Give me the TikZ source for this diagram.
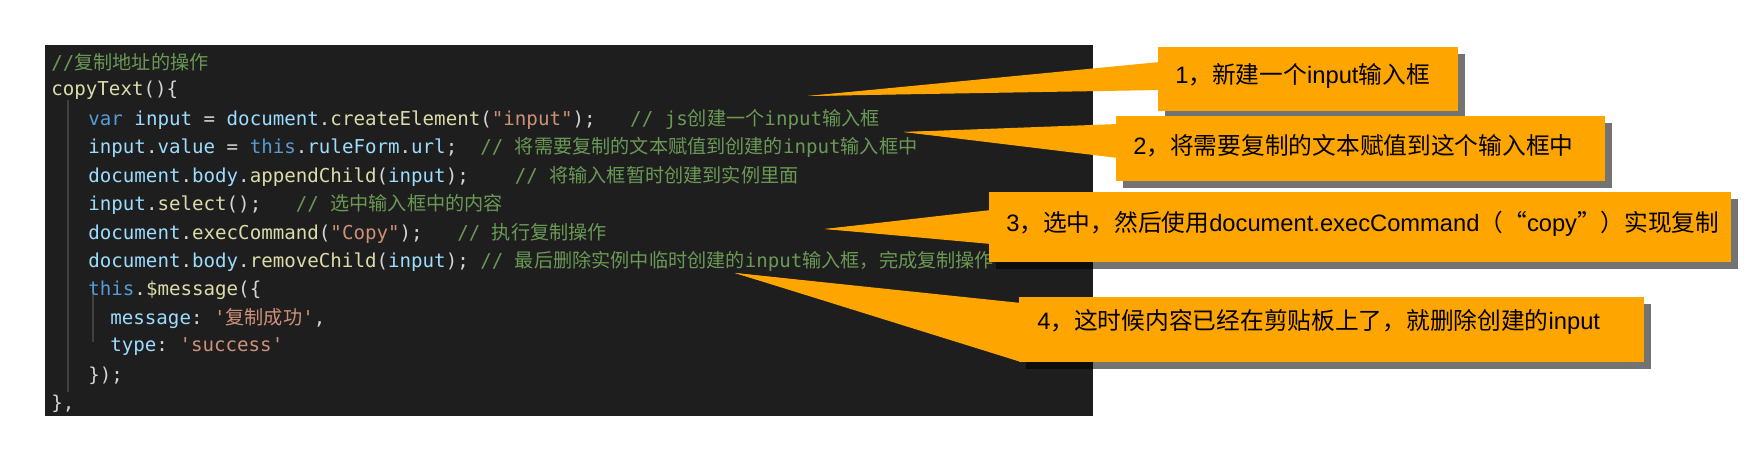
\documentclass[tikz,border=0pt]{standalone}
\usepackage{fontspec}
\usetikzlibrary{shadows}
\setmainfont{Liberation Sans}
\setmonofont{DejaVu Sans Mono}
\newfontfamily\cj{Noto Sans CJK SC}
\definecolor{bgc}{HTML}{1E1E1E}
\definecolor{cmc}{HTML}{6A9955}
\definecolor{kwc}{HTML}{569CD6}
\definecolor{vrc}{HTML}{9CDCFE}
\definecolor{fnc}{HTML}{DCDCAA}
\definecolor{stc}{HTML}{CE9178}
\definecolor{ptc}{HTML}{D4D4D4}
\definecolor{orc}{HTML}{FFA500}
\definecolor{guide}{HTML}{404040}
\newcommand{\KW}[1]{\textcolor{kwc}{#1}}
\newcommand{\VR}[1]{\textcolor{vrc}{#1}}
\newcommand{\FN}[1]{\textcolor{fnc}{#1}}
\newcommand{\ST}[1]{\textcolor{stc}{#1}}
\newcommand{\CM}[1]{\textcolor{cmc}{#1}}
\newcommand{\C}[1]{{\cj #1}}
\begin{document}
\begin{tikzpicture}[x=0.02cm,y=-0.02cm,
  codeline/.style={anchor=west,inner sep=0pt,text=ptc,font=\ttfamily\fontsize{10.9}{12}\selectfont},
  callout/.style={fill=orc,draw=none,minimum height=#1,inner sep=0pt,
    drop shadow={shadow xshift=4pt,shadow yshift=-4pt,fill=black,opacity=0.55}},
  callouttext/.style={anchor=west,inner sep=0pt,font=\fontsize{13.5}{15}\selectfont,text=black},
  wedge/.style={fill=orc,draw=none}]
\useasboundingbox (0,0) rectangle (1762,459);
\fill[white] (0,0) rectangle (1762,459);
\node[fill=bgc,anchor=north west,minimum width=1048*0.02cm,minimum height=371*0.02cm,inner sep=0pt] (panel) at (45,45) {};
\draw[guide,line width=0.6pt] (68,100) -- (68,392);
\draw[guide,line width=0.6pt] (93,290) -- (93,342);
\node[codeline] (l1) at (51,62) {\CM{//\C{复制地址的操作}}};
\node[codeline] (l2) at (51,90.5) {\FN{copyText}()\{};
\node[codeline] (l3) at (88,119) {\KW{var} \VR{input} = \VR{document}.\FN{createElement}(\ST{"input"});\ \ \ \CM{// js\C{创建一个}input\C{输入框}}};
\node[codeline] (l4) at (88,147.5) {\VR{input}.\VR{value} = \KW{this}.\VR{ruleForm}.\VR{url};\ \ \CM{// \C{将需要复制的文本赋值到创建的}input\C{输入框中}}};
\node[codeline] (l5) at (88,176) {\VR{document}.\VR{body}.\FN{appendChild}(\VR{input});\ \ \ \ \CM{// \C{将输入框暂时创建到实例里面}}};
\node[codeline] (l6) at (88,204.5) {\VR{input}.\FN{select}();\ \ \ \CM{// \C{选中输入框中的内容}}};
\node[codeline] (l7) at (88,233) {\VR{document}.\FN{execCommand}(\ST{"Copy"});\ \ \ \CM{// \C{执行复制操作}}};
\node[codeline] (l8) at (88,261.5) {\VR{document}.\VR{body}.\FN{removeChild}(\VR{input}); \CM{// \C{最后删除实例中临时创建的}input\C{输入框，完成复制操作}}};
\node[codeline] (l9) at (88,290) {\KW{this}.\FN{\$message}(\{};
\node[codeline] (l10) at (110,318.5) {\VR{message}: \ST{'\C{复制成功}'},};
\node[codeline] (l11) at (110,347) {\VR{type}: \ST{'success'}};
\node[codeline] (l12) at (88,375.5) {\});};
\node[codeline] (l13) at (51,404) {\},};
% tips
\coordinate (t1) at (808,96);
\coordinate (t2) at (904,132);
\coordinate (t3) at (825,229);
\coordinate (t4) at (735,273);
\fill[wedge] (t1) -- (1160,62) -- (1160,90) -- cycle;
\fill[wedge] (t2) -- (1118,124) -- (1118,158) -- cycle;
\fill[wedge] (t3) -- (991,210) -- (991,244) -- cycle;
\fill[wedge] (t4) -- (1021,303) -- (1021,362) -- cycle;
% boxes
\node[callout=64*0.02cm,minimum width=300*0.02cm,anchor=north west] (b1) at (1158,47) {};
\node[callout=65*0.02cm,minimum width=489*0.02cm,anchor=north west] (b2) at (1116,116) {};
\node[callout=70*0.02cm,minimum width=742*0.02cm,anchor=north west] (b3) at (989,192) {};
\node[callout=65*0.02cm,minimum width=625*0.02cm,anchor=north west] (b4) at (1019,297) {};
\fill[wedge] (t1) -- (1162,64) -- (1162,88) -- cycle;
\fill[wedge] (t2) -- (1120,126) -- (1120,156) -- cycle;
\fill[wedge] (t3) -- (993,212) -- (993,242) -- cycle;
\fill[wedge] (t4) -- (1023,305) -- (1023,360) -- cycle;
\node[callouttext] (x1) at (1175,76) {1\C{，新建一个}input\C{输入框}};
\node[callouttext] (x2) at (1133,146) {2\C{，将需要复制的文本赋值到这个输入框中}};
\node[callouttext] (x3) at (1006,224) {3\C{，选中，然后使用}document.execCommand\C{（“}copy\C{”）实现复制}};
\node[callouttext] (x4) at (1037,322) {4\C{，这时候内容已经在剪贴板上了，就删除创建的}input};
\end{tikzpicture}
\end{document}
